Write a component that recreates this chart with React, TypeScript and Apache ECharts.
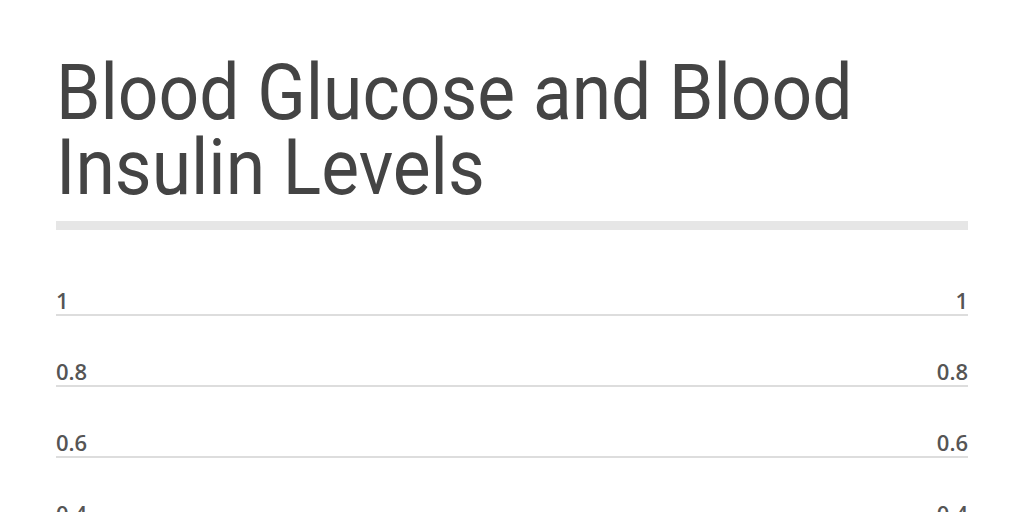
import { useEffect, useRef } from "react";
import * as echarts from "echarts";

const TITLE_LINES = ["Blood Glucose and Blood", "Insulin Levels"];

// minutes after a meal
const times = ["0", "30", "60", "90", "120", "150", "180"];
// only the upper part of the chart is shown; the curves sit below 0.4
const glucose = [0.18, 0.32, 0.36, 0.3, 0.22, 0.17, 0.15];
const insulin = [0.06, 0.14, 0.28, 0.34, 0.25, 0.15, 0.09];

const Y_MIN = 0;
const Y_MAX = 1;
const Y_STEP = 0.2;

const LABEL_FONT = "'Open Sans', 'Noto Sans', sans-serif";

export default function App() {
  const chartRef = useRef<HTMLDivElement>(null);

  useEffect(() => {
    document.body.style.margin = "0";
    document.body.style.overflow = "hidden";
    if (!chartRef.current) return;
    const chart = echarts.init(chartRef.current, undefined, { renderer: "svg" });

    const yLabel = (align: "left" | "right") => ({
      inside: true,
      margin: 0,
      align,
      verticalAlign: "bottom" as const,
      lineHeight: 22,
      padding: [0, 0, 4.5, 0],
      color: "#555555",
      fontSize: 22,
      fontWeight: 600,
      fontFamily: LABEL_FONT,
    });

    // title drawn line by line, slightly condensed like the original
    const titleText = TITLE_LINES.map((line, i) => ({
      type: "text",
      x: 56,
      y: 55 + i * 75,
      scaleX: 0.915,
      silent: true,
      style: {
        text: line,
        fontFamily: "Roboto, sans-serif",
        fontSize: 78,
        lineHeight: 75,
        fill: "#444444",
        verticalAlign: "top",
      },
    }));

    chart.setOption({
      animation: false,
      backgroundColor: "#ffffff",
      graphic: [
        ...titleText,
        {
          type: "rect",
          shape: { x: 56, y: 221, width: 912, height: 9 },
          style: { fill: "#e6e6e6" },
          silent: true,
        },
      ],
      grid: { left: 56, right: 56, top: 315, height: 355 },
      xAxis: {
        type: "category",
        data: times,
        boundaryGap: false,
        axisLine: { show: false },
        axisTick: { show: false },
        axisLabel: { color: "#555555", fontSize: 20, fontFamily: LABEL_FONT },
      },
      yAxis: [
        {
          type: "value",
          position: "left",
          min: Y_MIN,
          max: Y_MAX,
          interval: Y_STEP,
          axisLine: { show: false },
          axisTick: { show: false },
          axisLabel: yLabel("left"),
          splitLine: { lineStyle: { color: "#dddddd", width: 2 } },
        },
        {
          type: "value",
          position: "right",
          min: Y_MIN,
          max: Y_MAX,
          interval: Y_STEP,
          axisLine: { show: false },
          axisTick: { show: false },
          axisLabel: yLabel("right"),
          splitLine: { show: false },
        },
      ],
      series: [
        {
          name: "Blood Glucose",
          type: "line",
          data: glucose,
          yAxisIndex: 0,
          symbol: "none",
          lineStyle: { color: "#e8684a", width: 3 },
        },
        {
          name: "Blood Insulin",
          type: "line",
          data: insulin,
          yAxisIndex: 1,
          symbol: "none",
          lineStyle: { color: "#3a86c8", width: 3 },
        },
      ],
    });

    return () => chart.dispose();
  }, []);

  return <div ref={chartRef} style={{ width: 1024, height: 740 }} />;
}
